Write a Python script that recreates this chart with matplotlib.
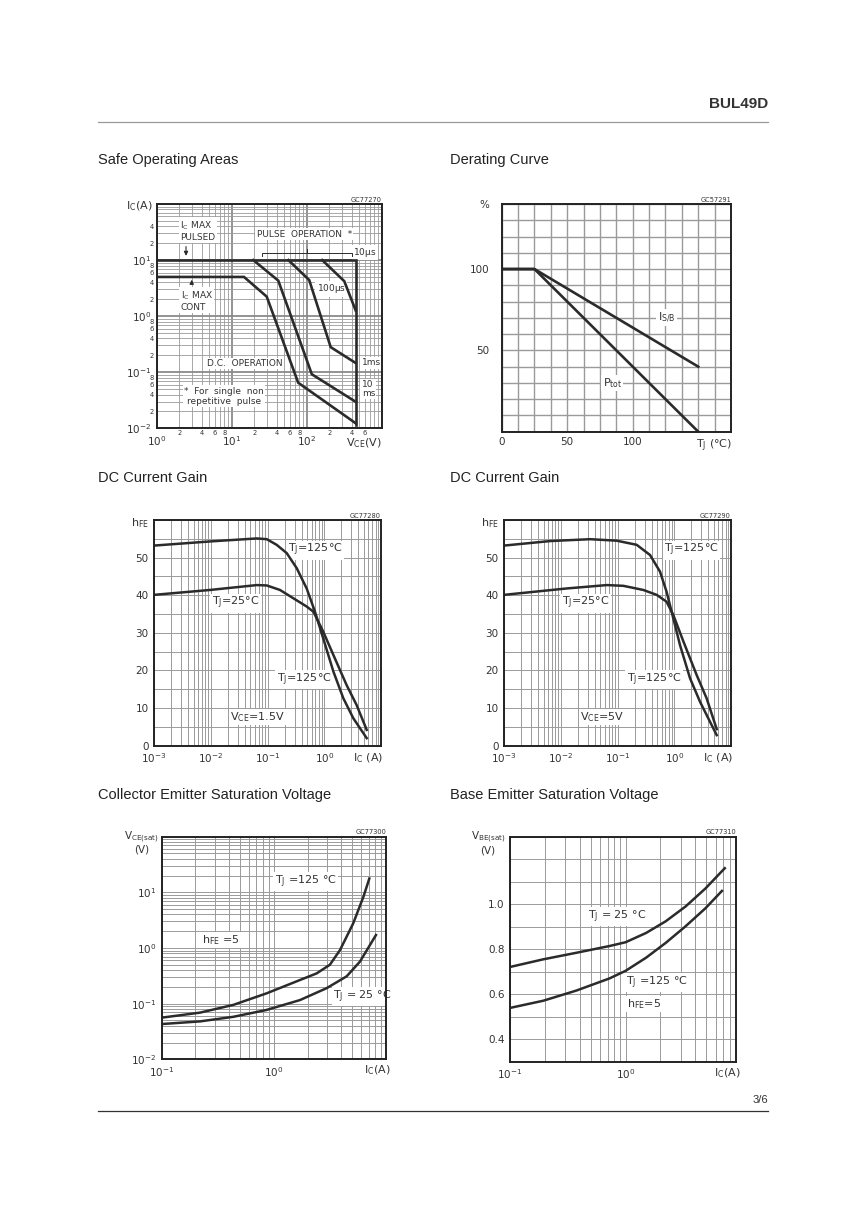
import numpy as np
import matplotlib.pyplot as plt
from matplotlib.lines import Line2D
from matplotlib.ticker import LogLocator, MultipleLocator, NullFormatter

plt.rcParams['font.family'] = ['DejaVu Sans']
plt.rcParams['mathtext.default'] = 'regular'

# ---------------------------------------------------------------- data
# Safe operating areas  (V_CE in V, I_C in A)
soa_env_v = [1, 450, 450]
soa_env_i = [10, 10, 0.0115]
soa_100us_v = [161, 317, 450]
soa_100us_i = [10, 4.2, 1.26]
soa_1ms_v = [57, 108, 209, 450]
soa_1ms_i = [10, 4.4, 0.28, 0.146]
soa_10ms_v = [19.4, 41.8, 117, 450]
soa_10ms_i = [10, 4.3, 0.092, 0.0297]
soa_dc_v = [1, 14.6, 29.3, 77, 450]
soa_dc_i = [5, 5, 2.23, 0.065, 0.0123]

# Derating curve (T_J in degC, %)
der_t = [0, 25, 150]
der_ptot = [100, 100, 0]
der_isb = [100, 100, 40]

# DC current gain, V_CE = 1.5 V
g1_hot_ic = [0.001, 0.0097, 0.065, 0.097, 0.145, 0.218, 0.327, 0.49, 0.687, 0.96, 1.45, 2.17, 3.25, 5.6]
g1_hot_h = [53.2, 54.3, 55.1, 54.9, 53.4, 51.2, 47.2, 41.8, 35.6, 28.5, 19.7, 12.6, 7.3, 2.0]
g1_cold_ic = [0.001, 0.0097, 0.065, 0.097, 0.166, 0.285, 0.49, 0.646, 0.96, 1.45, 2.48, 3.72, 5.6]
g1_cold_h = [40.1, 41.4, 42.7, 42.6, 41.4, 39.2, 37.0, 35.6, 30.3, 24.1, 16.1, 10.8, 4.2]

# DC current gain, V_CE = 5 V
g2_hot_ic = [0.001, 0.0065, 0.033, 0.097, 0.218, 0.374, 0.56, 0.73, 0.9, 1.26, 1.9, 2.84, 5.6]
g2_hot_h = [53.2, 54.4, 54.9, 54.5, 53.4, 50.7, 46.3, 41.0, 35.6, 26.8, 17.9, 11.7, 2.8]
g2_cold_ic = [0.001, 0.0127, 0.065, 0.127, 0.285, 0.49, 0.73, 0.96, 1.45, 2.48, 3.72, 5.6]
g2_cold_h = [40.1, 41.8, 42.7, 42.5, 41.4, 40.1, 38.3, 34.8, 27.7, 18.8, 12.6, 4.4]

# Collector emitter saturation voltage, hFE = 5
vce_hot_ic = [0.1, 0.22, 0.435, 0.86, 1.71, 2.41, 3.16, 3.89, 5.1, 6.3, 7.1]
vce_hot_v = [0.056, 0.069, 0.095, 0.153, 0.266, 0.35, 0.5, 0.92, 2.77, 8.4, 17.7]
vce_cold_ic = [0.1, 0.22, 0.435, 0.86, 1.71, 2.96, 4.46, 5.86, 8.14]
vce_cold_v = [0.043, 0.048, 0.058, 0.077, 0.116, 0.19, 0.31, 0.57, 1.71]

# Base emitter saturation voltage, hFE = 5
vbe_ic = [0.1, 0.194, 0.374, 0.724, 1.0, 1.5, 2.22, 3.3, 4.9, 7.2]
vbe_cold_v = [0.721, 0.755, 0.784, 0.814, 0.831, 0.872, 0.924, 0.99, 1.07, 1.16]
vbe_hot_ic = [0.1, 0.194, 0.374, 0.724, 1.0, 1.5, 2.22, 3.3, 4.9, 6.8]
vbe_hot_v = [0.539, 0.571, 0.616, 0.67, 0.704, 0.762, 0.828, 0.902, 0.982, 1.059]

# tick labels
subs = [2, 3, 4, 5, 6, 7, 8, 9]
soa_x_major = [r'$10^0$', r'$10^1$', r'$10^2$', '']
soa_x_minor = [['2', '', '4', '', '6', '', '8', ''],
               ['2', '', '4', '', '6', '', '8', ''],
               ['2', '', '4', '', '6', '', '', '']]
soa_y_major = [r'$10^{-2}$', r'$10^{-1}$', r'$10^0$', r'$10^1$', '']
soa_y_minor = [['2', '', '4', '', '6', '', '8', ''],
               ['2', '', '4', '', '6', '', '8', ''],
               ['2', '', '4', '', '6', '', '8', ''],
               ['2', '', '4', '', '', '', '', '']]
gain_x_ticks = [1e-3, 1e-2, 1e-1, 1]
gain_x_labels = [r'$10^{-3}$', r'$10^{-2}$', r'$10^{-1}$', r'$10^0$']
gain_y_ticks = [0, 10, 20, 30, 40, 50]
vce_y_ticks = [0.01, 0.1, 1, 10]
vce_y_labels = [r'$10^{-2}$', r'$10^{-1}$', r'$10^0$', r'$10^1$']
vbe_y_ticks = [0.4, 0.6, 0.8, 1.0]
vbe_y_labels = ['0.4', '0.6', '0.8', '1.0']

# ---------------------------------------------------------------- page
W, H = 868, 1228
fig = plt.figure(figsize=(W / 100, H / 100), dpi=100)
fig.patch.set_facecolor('white')

CURVE = '#2b2b2b'
GRID = '#9a9a9a'
TXT = '#333333'
TITLE_FONT = ['Liberation Sans Narrow', 'Liberation Sans', 'DejaVu Sans']
BOX = dict(facecolor='white', edgecolor='none', pad=1.0)
CZ = 5  # curves above the white label boxes


def place(l, t, r, b):
    return fig.add_axes([l / W, 1 - b / H, (r - l) / W, (b - t) / H])


def style(ax):
    for s in ax.spines.values():
        s.set_linewidth(1.4)
        s.set_color('#222222')
        s.set_zorder(6)
    ax.tick_params(which='both', length=0, labelsize=7.5, pad=4, colors=TXT)
    ax.set_axisbelow(True)


def gc(ax, code):
    ax.text(1.0, 1.006, code, transform=ax.transAxes, ha='right', va='bottom',
            fontsize=4.8, color=TXT)


fig.text(768 / W, 1 - 104 / H, 'BUL49D', ha='right', va='center', fontsize=11,
         fontweight='bold', family=['Liberation Sans', 'DejaVu Sans'], color='#333333')
fig.add_artist(Line2D([98 / W, 768 / W], [1 - 122 / H] * 2, color='#999999', lw=0.9))
fig.add_artist(Line2D([98 / W, 768 / W], [1 - 1111 / H] * 2, color='#333333', lw=0.9))
fig.text(768 / W, 1 - 1100 / H, '3/6', ha='right', va='center', fontsize=8,
         family=TITLE_FONT, color='#333333')

titles = [(98, 160, 'Safe Operating Areas'), (450, 160, 'Derating Curve'),
          (98, 478, 'DC Current Gain'), (450, 478, 'DC Current Gain'),
          (98, 795, 'Collector Emitter Saturation Voltage'),
          (450, 795, 'Base Emitter Saturation Voltage')]
for x, y, t in titles:
    fig.text(x / W, 1 - y / H, t, ha='left', va='center', fontsize=10.5,
             family=TITLE_FONT, color='#222222')

# ---------------------------------------------------------------- SOA
ax = place(156.7, 204, 381.7, 428.3)
style(ax)
ax.set_xscale('log')
ax.set_yscale('log')
ax.set_xlim(1, 1000)
ax.set_ylim(0.01, 100)
ax.set_xticks([1, 10, 100, 1000], soa_x_major)
ax.set_xticks([m * d for d in (1, 10, 100) for m in subs],
              [l for grp in soa_x_minor for l in grp], minor=True)
ax.set_yticks([0.01, 0.1, 1, 10, 100], soa_y_major)
ax.set_yticks([m * d for d in (0.01, 0.1, 1, 10) for m in subs],
              [l for grp in soa_y_minor for l in grp], minor=True)
ax.tick_params(which='minor', labelsize=4.8, pad=2)
ax.tick_params(axis='x', which='minor', pad=1)
ax.grid(which='minor', color=GRID, lw=0.6)
ax.grid(which='major', color='#8a8a8a', lw=1.3)
for v, i in [(soa_env_v, soa_env_i), (soa_100us_v, soa_100us_i), (soa_1ms_v, soa_1ms_i),
             (soa_10ms_v, soa_10ms_i), (soa_dc_v, soa_dc_i)]:
    ax.plot(v, i, color=CURVE, lw=1.9, solid_joinstyle='miter', zorder=CZ)
fs = 6.5
ax.text(2.05, 33, 'I$_C$ MAX\nPULSED', fontsize=fs, color=TXT, va='center',
        linespacing=1.1, bbox=BOX)
ax.annotate('', xy=(2.46, 10.6), xytext=(2.46, 19.5),
            arrowprops=dict(arrowstyle='-|>', color=CURVE, lw=0.8, mutation_scale=6))
ax.text(2.09, 1.9, 'I$_C$ MAX\nCONT', fontsize=fs, color=TXT, va='center',
        linespacing=1.1, bbox=BOX)
ax.annotate('', xy=(2.93, 5.0), xytext=(2.93, 3.3),
            arrowprops=dict(arrowstyle='-|>', color=CURVE, lw=0.8, mutation_scale=6))
ax.text(21.5, 29, 'PULSE  OPERATION  *', fontsize=fs, color=TXT, va='center', bbox=BOX)
ax.plot([25, 25, 398, 398], [11.9, 13.6, 13.6, 11.9], color=CURVE, lw=0.7, zorder=CZ)
ax.plot([100, 100], [13.6, 15.5], color=CURVE, lw=0.7, zorder=CZ)
ax.text(414, 13.6, r'10$\mu$s', fontsize=fs, color=TXT, va='center', bbox=BOX)
ax.text(136, 3.05, r'100$\mu$s', fontsize=fs, color=TXT, va='center', bbox=BOX)
ax.text(541, 0.148, '1ms', fontsize=fs, color=TXT, va='center', bbox=BOX)
ax.text(541, 0.05, '10\nms', fontsize=fs, color=TXT, va='center', linespacing=1.0,
        bbox=BOX)
ax.text(4.64, 0.143, 'D.C.  OPERATION', fontsize=fs, color=TXT, va='center', bbox=BOX)
ax.text(7.9, 0.0374, '*  For  single  non\nrepetitive  pulse', fontsize=fs, color=TXT,
        va='center', ha='center', multialignment='center', linespacing=1.15, bbox=BOX)
ax.text(-0.02, 0.99, 'I$_C$(A)', transform=ax.transAxes, ha='right', va='center',
        fontsize=8, color=TXT)
ax.text(1.0, -0.065, 'V$_{CE}$(V)', transform=ax.transAxes, ha='right', va='center',
        fontsize=8, color=TXT)
gc(ax, 'GC77270')

# ---------------------------------------------------------------- Derating
ax = place(501.7, 204, 731, 431.7)
style(ax)
ax.set_xlim(0, 175)
ax.set_ylim(0, 140)
ax.set_xticks([0, 50, 100], ['0', '50', '100'])
ax.set_xticks(np.arange(0, 175.1, 12.5), minor=True)
ax.set_yticks([50, 100, 140], ['50', '100', '%'])
ax.yaxis.set_minor_locator(MultipleLocator(10))
ax.tick_params(axis='y', pad=9)
ax.grid(which='both', color=GRID, lw=1.0)
ax.plot(der_t, der_ptot, color=CURVE, lw=1.9, zorder=CZ)
ax.plot(der_t, der_isb, color=CURVE, lw=1.9, zorder=CZ)
ax.text(119, 70, 'I$_{S/B}$', fontsize=8, color=TXT, va='center', bbox=BOX)
ax.text(77, 30, 'P$_{tot}$', fontsize=8, color=TXT, va='center', bbox=BOX)
ax.text(148, -3.5, 'T$_J$ (°C)', fontsize=8, color=TXT, va='top')
gc(ax, 'GC57291')


# ---------------------------------------------------------------- DC gain
def gain(box, hot_ic, hot_h, cold_ic, cold_h, vce, hot_left, code):
    ax = place(*box)
    style(ax)
    ax.set_xscale('log')
    ax.set_xlim(1e-3, 10)
    ax.set_ylim(0, 60)
    ax.set_xticks(gain_x_ticks, gain_x_labels)
    ax.xaxis.set_minor_locator(LogLocator(base=10, subs=subs))
    ax.xaxis.set_minor_formatter(NullFormatter())
    ax.set_yticks(gain_y_ticks, [str(v) for v in gain_y_ticks])
    ax.yaxis.set_minor_locator(MultipleLocator(5))
    ax.grid(which='both', color=GRID, lw=0.7)
    ax.plot(hot_ic, hot_h, color=CURVE, lw=1.8, zorder=CZ)
    ax.plot(cold_ic, cold_h, color=CURVE, lw=1.8, zorder=CZ)
    ax.text(hot_left, 52, 'T$_J$=125°C', fontsize=8, color=TXT, va='center', bbox=BOX)
    ax.text(0.0104, 37.9, 'T$_J$=25°C', fontsize=8, color=TXT, va='center', bbox=BOX)
    ax.text(0.145, 17.5, 'T$_J$=125°C', fontsize=8, color=TXT, va='center', bbox=BOX)
    ax.text(0.022, 7.7, 'V$_{CE}$=' + vce, fontsize=8, color=TXT, va='center', bbox=BOX)
    ax.text(-0.02, 0.985, 'h$_{FE}$', transform=ax.transAxes, ha='right', va='center',
            fontsize=8, color=TXT)
    ax.text(1.01, -0.055, 'I$_C$ (A)', transform=ax.transAxes, ha='right', va='center',
            fontsize=8, color=TXT)
    gc(ax, code)


gain((154, 520, 381, 745.7), g1_hot_ic, g1_hot_h, g1_cold_ic, g1_cold_h,
     '1.5V', 0.23, 'GC77280')
gain((504, 520, 731, 745.7), g2_hot_ic, g2_hot_h, g2_cold_ic, g2_cold_h,
     '5V', 0.66, 'GC77290')

# ---------------------------------------------------------------- VCE(sat)
ax = place(161.7, 836.7, 386, 1059.3)
style(ax)
ax.set_xscale('log')
ax.set_yscale('log')
ax.set_xlim(0.1, 10)
ax.set_ylim(0.01, 100)
ax.set_xticks([0.1, 1], [r'$10^{-1}$', r'$10^0$'])
ax.xaxis.set_minor_locator(LogLocator(base=10, subs=subs))
ax.xaxis.set_minor_formatter(NullFormatter())
ax.set_yticks(vce_y_ticks, vce_y_labels)
ax.yaxis.set_minor_locator(LogLocator(base=10, subs=subs))
ax.yaxis.set_minor_formatter(NullFormatter())
ax.grid(which='both', color=GRID, lw=0.7)
ax.plot(vce_hot_ic, vce_hot_v, color=CURVE, lw=1.8, zorder=CZ)
ax.plot(vce_cold_ic, vce_cold_v, color=CURVE, lw=1.8, zorder=CZ)
ax.text(1.02, 15.5, 'T$_J$ =125 °C', fontsize=8, color=TXT, va='center', bbox=BOX)
ax.text(0.227, 1.39, 'h$_{FE}$ =5', fontsize=8, color=TXT, va='center', bbox=BOX)
ax.text(3.39, 0.134, 'T$_J$ = 25 °C', fontsize=8, color=TXT, va='center', bbox=BOX)
ax.text(-0.01, 0.975, 'V$_{CE(sat)}$\n(V)', transform=ax.transAxes, ha='right',
        va='center', multialignment='center', fontsize=7.5, color=TXT, linespacing=1.0)
ax.text(1.02, -0.05, 'I$_C$(A)', transform=ax.transAxes, ha='right', va='center',
        fontsize=8, color=TXT)
gc(ax, 'GC77300')

# ---------------------------------------------------------------- VBE(sat)
ax = place(510, 836.7, 736, 1061.7)
style(ax)
ax.set_xscale('log')
ax.set_xlim(0.1, 9)
ax.set_ylim(0.3, 1.3)
ax.set_xticks([0.1, 1], [r'$10^{-1}$', r'$10^0$'])
ax.xaxis.set_minor_locator(LogLocator(base=10, subs=subs))
ax.xaxis.set_minor_formatter(NullFormatter())
ax.set_yticks(vbe_y_ticks, vbe_y_labels)
ax.yaxis.set_minor_locator(MultipleLocator(0.1))
ax.grid(which='both', color=GRID, lw=0.7)
ax.plot(vbe_ic, vbe_cold_v, color=CURVE, lw=1.8, zorder=CZ)
ax.plot(vbe_hot_ic, vbe_hot_v, color=CURVE, lw=1.8, zorder=CZ)
ax.text(0.47, 0.946, 'T$_J$ = 25 °C', fontsize=8, color=TXT, va='center', bbox=BOX)
ax.text(1.0, 0.652, 'T$_J$ =125 °C', fontsize=8, color=TXT, va='center', bbox=BOX)
ax.text(1.02, 0.557, 'h$_{FE}$=5', fontsize=8, color=TXT, va='center', bbox=BOX)
ax.text(-0.02, 0.975, 'V$_{BE(sat)}$\n(V)', transform=ax.transAxes, ha='right',
        va='center', multialignment='center', fontsize=7.5, color=TXT, linespacing=1.0)
ax.text(1.02, -0.05, 'I$_C$(A)', transform=ax.transAxes, ha='right', va='center',
        fontsize=8, color=TXT)
gc(ax, 'GC77310')

fig.savefig('out.png', dpi=100, facecolor='white')
